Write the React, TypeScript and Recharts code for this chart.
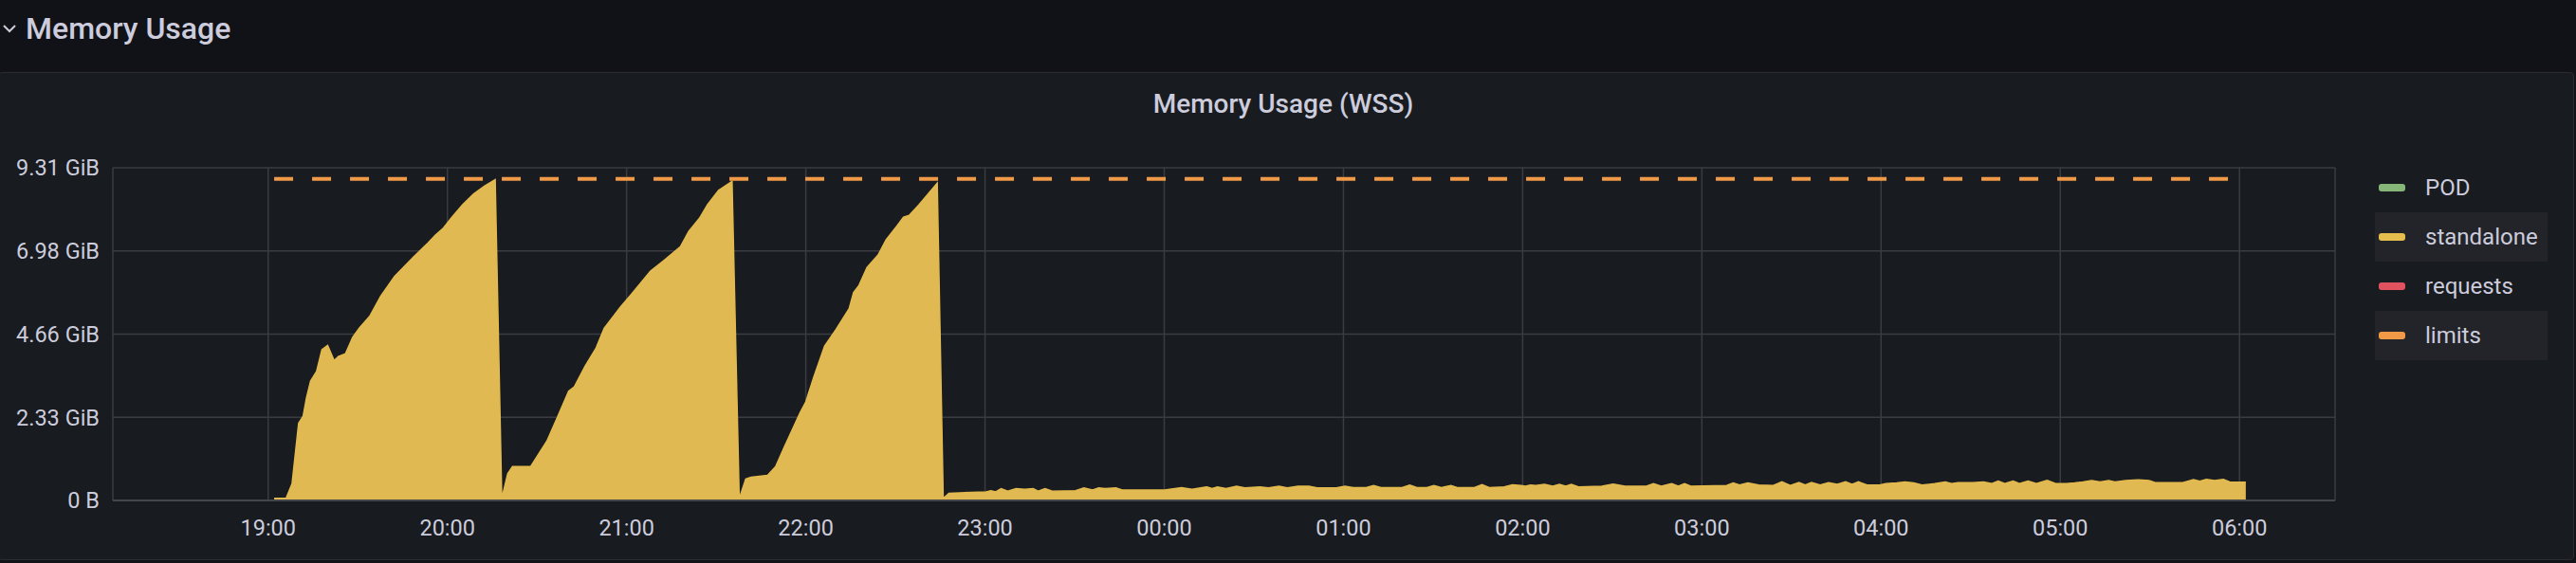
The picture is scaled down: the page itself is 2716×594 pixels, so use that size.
import React from 'react';
import { ComposedChart, Area, Line, XAxis, YAxis, CartesianGrid, Legend } from 'recharts';

// minutes since 18:00, value in GiB
const cycleOne: [number, number][] = [
  [62, 0.06], [66, 0.06], [68, 0.47], [70.2, 2.16], [71.7, 2.36], [72.8, 2.86], [74.2, 3.34],
  [76.2, 3.61], [78, 4.22], [79.9, 4.34], [82.1, 3.91], [83.5, 4.03], [85.9, 4.11], [88.3, 4.57],
  [90.5, 4.82], [94.1, 5.17], [97.7, 5.72], [102.3, 6.27], [108.7, 6.82], [113.2, 7.18], [116, 7.43],
  [118.7, 7.63], [121.5, 7.93], [125.1, 8.28], [128.8, 8.58], [132.4, 8.8], [136, 8.98],
];
const cycleTwo: [number, number][] = [
  [138.2, 0.05], [140.2, 0.75], [141.8, 0.95], [147.9, 0.95], [153.3, 1.66], [157, 2.36], [160.6, 3.06],
  [162.5, 3.18], [166.1, 3.76], [169.8, 4.27], [172.5, 4.82], [178, 5.42], [181.6, 5.77], [188, 6.42],
  [192.5, 6.72], [198, 7.1], [200.8, 7.53], [204.4, 7.9], [207.1, 8.28], [210.8, 8.68], [215.3, 8.93],
];
const cycleThree: [number, number][] = [
  [217.7, 0.05], [219.9, 0.6], [221.7, 0.65], [227.2, 0.7], [229.9, 0.95], [232.6, 1.46], [238.1, 2.46],
  [240, 2.76], [242.7, 3.46], [246.3, 4.32], [250, 4.77], [254.5, 5.37], [256, 5.82], [257.8, 6.02],
  [260.5, 6.52], [264.2, 6.87], [266.9, 7.3], [270.5, 7.68], [272.7, 7.93], [274.6, 7.98], [277.9, 8.28],
  [284, 8.88],
];
const idle: [number, number][] = [
  [286, 0.05], [287.9, 0.2], [300.3, 0.24], [302, 0.27], [303.6, 0.24], [305.4, 0.33], [307.6, 0.26],
  [310.4, 0.33], [313.3, 0.31], [316.1, 0.33], [317.8, 0.26], [320.1, 0.33], [322.5, 0.26], [330.3, 0.27],
  [333.1, 0.35], [336, 0.29], [338.1, 0.35], [340.2, 0.33], [343.8, 0.35], [345.9, 0.29], [360.1, 0.29],
  [365.8, 0.36], [369.3, 0.31], [374.3, 0.38], [376, 0.33], [377.8, 0.38], [380.7, 0.33], [384.2, 0.4],
  [387, 0.35], [392, 0.38], [394.9, 0.35], [398.4, 0.4], [401.2, 0.35], [404.8, 0.4], [408.4, 0.4],
  [411.2, 0.35], [417.6, 0.35], [420.5, 0.4], [423.3, 0.36], [427.6, 0.36], [430.1, 0.42], [432.6, 0.36],
  [439.6, 0.36], [442.2, 0.43], [444.6, 0.36], [447.9, 0.36], [450.3, 0.42], [452.8, 0.36], [456, 0.42],
  [458.1, 0.36], [463.8, 0.36], [466.4, 0.44], [468.8, 0.36], [473.8, 0.38], [476.6, 0.44], [479.5, 0.42],
  [480.9, 0.4], [482.6, 0.43], [484.4, 0.42], [487.3, 0.45], [490.1, 0.4], [492.3, 0.45], [494.4, 0.4],
  [496.3, 0.45], [498.7, 0.38], [506.5, 0.4], [510.3, 0.46], [514.3, 0.4], [521.4, 0.4], [523.8, 0.47],
  [526.4, 0.4], [529.9, 0.47], [532.1, 0.4], [534.2, 0.47], [536.3, 0.4], [548.3, 0.42], [550.5, 0.49],
  [552.6, 0.43], [555.4, 0.49], [559, 0.43], [563.9, 0.42], [566.8, 0.52], [569.6, 0.42], [572.5, 0.5],
  [574.6, 0.43], [576.7, 0.5], [579.6, 0.43], [582.4, 0.5], [585.3, 0.45], [588.1, 0.52], [590.3, 0.45],
  [592.4, 0.52], [595.3, 0.43], [599.5, 0.43], [601.6, 0.47], [605.2, 0.49], [608, 0.52], [610.9, 0.49],
  [613.7, 0.43], [618, 0.47], [621.5, 0.52], [623.6, 0.47], [625.8, 0.5], [630.7, 0.5], [634.3, 0.52],
  [637.1, 0.47], [639.2, 0.54], [641.4, 0.47], [644.2, 0.54], [646.3, 0.47], [649.2, 0.54], [652, 0.47],
  [655.6, 0.56], [658.4, 0.47], [662, 0.47], [664.8, 0.49], [667.6, 0.52], [670.5, 0.56], [673.3, 0.52],
  [676.2, 0.56], [678.3, 0.52], [681.9, 0.56], [686.1, 0.58], [689.7, 0.56], [691.8, 0.5], [697.5, 0.5],
  [701, 0.5], [704.6, 0.58], [706.7, 0.54], [708.9, 0.59], [711.7, 0.56], [714.6, 0.59], [716.7, 0.52],
  [722.1, 0.51],
];
const limitsGiB = 9;

const xTicks = [60, 120, 180, 240, 300, 360, 420, 480, 540, 600, 660, 720];
const xTickLabels = ['19:00', '20:00', '21:00', '22:00', '23:00', '00:00', '01:00', '02:00', '03:00', '04:00', '05:00', '06:00'];
const yTicks = [0, 2.3283, 4.6566, 6.9849, 9.3132];
const yTickLabels = ['0 B', '2.33 GiB', '4.66 GiB', '6.98 GiB', '9.31 GiB'];

const seriesNames = ['POD', 'standalone', 'requests', 'limits'];
const seriesColors = ['#86B678', '#E5BE4E', '#E0525E', '#F09A48'];
const highlighted = [false, true, false, true];

const rows = [...cycleOne, ...cycleTwo, ...cycleThree, ...idle].map(([t, v]) => ({
  t,
  standalone: v,
  limits: limitsGiB,
  POD: null as number | null,
  requests: null as number | null,
}));

const TEXT = '#ccccdc';
const FONT = 'Roboto, "Noto Sans", sans-serif';

const renderLegend = () => (
  <div style={{ width: 182, fontFamily: FONT }}>
    {seriesNames.map((name, i) => (
      <div
        key={name}
        style={{
          height: 52,
          display: 'flex',
          alignItems: 'center',
          background: highlighted[i] ? '#222429' : 'transparent',
        }}
      >
        <div style={{ width: 28, height: 8, borderRadius: 3, background: seriesColors[i], marginLeft: 4 }} />
        <span style={{ marginLeft: 21, fontSize: 24, color: TEXT, lineHeight: '52px' }}>{name}</span>
      </div>
    ))}
  </div>
);

export default function App() {
  return (
    <div
      style={{
        position: 'absolute',
        left: 0,
        top: 0,
        width: 2716,
        height: 594,
        background: '#111217',
        overflow: 'hidden',
        fontFamily: FONT,
      }}
    >
      <svg style={{ position: 'absolute', left: 0, top: 0 }} width={24} height={60}>
        <polyline points="4,27 10,33 16,27" fill="none" stroke={TEXT} strokeWidth={2} />
      </svg>
      <div
        style={{
          position: 'absolute',
          left: 27,
          top: 0,
          height: 60,
          lineHeight: '60px',
          fontSize: 32,
          fontWeight: 500,
          color: TEXT,
          whiteSpace: 'nowrap',
        }}
      >
        Memory Usage
      </div>
      <div
        style={{
          position: 'absolute',
          left: -2,
          top: 76,
          width: 2714,
          height: 513,
          background: '#181b1f',
          border: '1px solid #2a2c31',
          borderRadius: 4,
        }}
      />
      <div
        style={{
          position: 'absolute',
          left: 0,
          top: 90,
          width: 2706,
          height: 40,
          lineHeight: '40px',
          textAlign: 'center',
          fontSize: 28,
          fontWeight: 500,
          color: TEXT,
        }}
      >
        Memory Usage (WSS)
      </div>
      <div style={{ position: 'absolute', left: 0, top: 0 }}>
        <ComposedChart width={2716} height={594} data={rows} margin={{ top: 177, right: 254, bottom: 0, left: 0 }}>
          <CartesianGrid stroke="#3a3c42" strokeWidth={1.5} />
          <XAxis
            dataKey="t"
            type="number"
            domain={[8, 752]}
            ticks={xTicks}
            tickFormatter={(v: number) => xTickLabels[xTicks.indexOf(v)] ?? ''}
            height={66}
            tickSize={0}
            tickMargin={20}
            axisLine={{ stroke: '#45474c', strokeWidth: 2 }}
            tickLine={false}
            tick={{ fill: TEXT, fontSize: 23.5, fontFamily: FONT }}
            interval={0}
            allowDataOverflow
          />
          <YAxis
            type="number"
            domain={[0, 9.3132]}
            ticks={yTicks}
            tickFormatter={(v: number) => yTickLabels[yTicks.indexOf(v)] ?? ''}
            width={119}
            tickSize={0}
            tickMargin={14}
            axisLine={false}
            tickLine={false}
            tick={{ fill: TEXT, fontSize: 23.5, fontFamily: FONT }}
            interval={0}
            allowDataOverflow
          />
          <Legend
            layout="vertical"
            align="center"
            verticalAlign="middle"
            content={renderLegend}
            wrapperStyle={{ position: 'absolute', left: 2504, top: 172, width: 182, height: 208 }}
          />
          <Line dataKey="POD" name="POD" stroke={seriesColors[0]} dot={false} isAnimationActive={false} />
          <Area
            dataKey="standalone"
            name="standalone"
            type="linear"
            stroke="#E3BA4E"
            strokeWidth={1.5}
            fill="#E1B952"
            fillOpacity={1}
            dot={false}
            activeDot={false}
            isAnimationActive={false}
          />
          <Line dataKey="requests" name="requests" stroke={seriesColors[2]} dot={false} isAnimationActive={false} />
          <Line
            dataKey="limits"
            name="limits"
            type="linear"
            stroke="#F09A48"
            strokeWidth={4}
            strokeDasharray="20 20"
            dot={false}
            activeDot={false}
            isAnimationActive={false}
          />
        </ComposedChart>
      </div>
    </div>
  );
}
